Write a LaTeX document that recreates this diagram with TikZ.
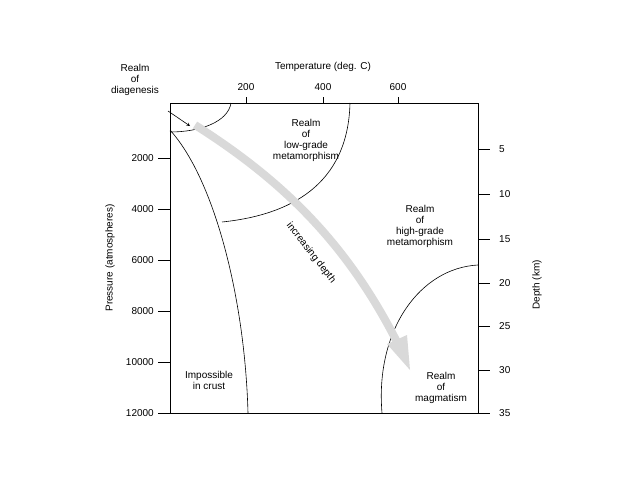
\documentclass[tikz,border=0pt]{standalone}
\usepackage{fontspec}
\setmainfont{Liberation Sans}
\begin{document}
\begin{tikzpicture}[x=1pt,y=-1pt,font=\fontsize{10}{11}\selectfont,
  lbl/.style={align=center,inner sep=1pt},
  crv/.style={line width=0.6pt}]
\useasboundingbox (0,0) rectangle (638,479);
\fill[white] (0,0) rectangle (638,479);
\draw[line width=0.8pt] (170,103) rectangle (478,413);
% top ticks
\foreach \x/\t in {246/200,323/400,398/600}{
  \draw (\x,103) -- (\x,97);
  \node[lbl] at (\x,87) {\t};}
\node[lbl] (temp) at (323,67) {Temperature (deg. C)};
% left ticks
\foreach \y/\t in {158/2000,209/4000,260/6000,311/8000,362/10000,413/12000}{
  \draw (170,\y) -- (158,\y);
  \node[lbl,anchor=east] at (155,\y) {\t};}
\node[lbl,rotate=90] (pres) at (110,258) {Pressure (atmospheres)};
% right ticks
\foreach \y/\t in {149/5,194/10,239/15,283/20,326/25,370/30,413/35}{
  \draw (478,\y) -- (490,\y);
  \node[lbl,anchor=west] at (498,\y) {\t};}
\node[lbl,rotate=90] (depth) at (537,285) {Depth (km)};
% curves
\draw[crv] (231,103) .. controls (228,122) and (200,132) .. (170,132);
\draw[crv] (350,103) .. controls (348,185) and (290,215) .. (222,222);
\draw[crv] (170,130) .. controls (215,180) and (245,300) .. (248,413);
\draw[crv] (478,265) .. controls (420,268) and (375,330) .. (382,413);
% gray arrow
\coordinate (gs) at (195,125);
\coordinate (ge) at (410,370);
\draw[line width=8pt,gray!30] (gs) .. controls (290,185) and (350,250) .. (397,342);
\fill[gray!30] (387,344) -- (410,370) -- (407,335) -- cycle;
% labels
\node[lbl] (diag) at (135,80) {Realm\\of\\diagenesis};
\coordinate (da) at (190,126);
\draw[-stealth,line width=0.6pt] (168,111) -- (da);
\node[lbl] (low) at (306,140) {Realm\\of\\low-grade\\metamorphism};
\node[lbl,rotate=-52] (inc) at (311,253) {increasing depth};
\node[lbl] (high) at (420,226) {Realm\\of\\high-grade\\metamorphism};
\node[lbl] (imp) at (209,380) {Impossible\\in crust};
\node[lbl] (mag) at (441,388) {Realm\\of\\magmatism};
\end{tikzpicture}
\end{document}
